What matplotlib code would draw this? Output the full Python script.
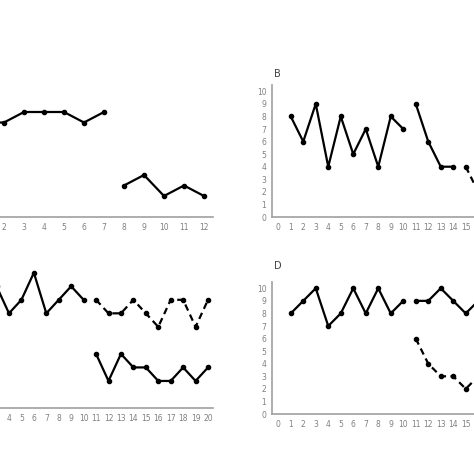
import matplotlib
matplotlib.use('Agg')
import matplotlib.pyplot as plt

W = H = 474.0

# panel A
a_x1 = [1, 2, 3, 4, 5, 6, 7]
a_y1 = [9, 9, 10, 10, 10, 9, 10]
a_x2 = [8, 9, 10, 11, 12]
a_y2 = [3, 4, 2, 3, 2]

# panel B
b_x1 = [1, 2, 3, 4, 5, 6, 7, 8, 9, 10]
b_y1 = [8, 6, 9, 4, 8, 5, 7, 4, 8, 7]
b_x2 = [11, 12, 13, 14]
b_y2 = [9, 6, 4, 4]
b_x3 = [15, 16]
b_y3 = [4, 2]

# panel C
c_x1 = [1, 2, 3, 4, 5, 6, 7, 8, 9, 10]
c_y1 = [8, 8, 9, 7, 8, 10, 7, 8, 9, 8]
c_x2 = [11, 12, 13, 14, 15, 16, 17, 18, 19, 20]
c_y2 = [8, 7, 7, 8, 7, 6, 8, 8, 6, 8]
c_x3 = [11, 12, 13, 14, 15, 16, 17, 18, 19, 20]
c_y3 = [4, 2, 4, 3, 3, 2, 2, 3, 2, 3]

# panel D
d_x1 = [1, 2, 3, 4, 5, 6, 7, 8, 9, 10]
d_y1 = [8, 9, 10, 7, 8, 10, 8, 10, 8, 9]
d_x2 = [11, 12, 13, 14, 15, 16]
d_y2 = [9, 9, 10, 9, 8, 9]
d_x3 = [11, 12, 13, 14, 15, 16]
d_y3 = [6, 4, 3, 3, 2, 3]


def make_ax(fig, left, bottom, right, top, xmin, xmax, xticks, yticks, ymax=10.5):
    # pixel box -> figure fraction
    ax = fig.add_axes([left / W, 1 - bottom / H, (right - left) / W, (bottom - top) / H])
    ax.set_xlim(xmin, xmax)
    ax.set_ylim(0, ymax)
    ax.set_xticks(xticks)
    ax.set_yticks(yticks)
    for s in ['top', 'right']:
        ax.spines[s].set_visible(False)
    for s in ['left', 'bottom']:
        ax.spines[s].set_color('#a0a0a0')
        ax.spines[s].set_linewidth(1.2)
    ax.tick_params(length=0, labelsize=5.5, labelcolor='#808080', pad=4)
    return ax


def draw(ax, x, y, dashed=False):
    ax.plot(x, y, color='black', lw=1.6, ls=(0, (3, 2)) if dashed else '-',
            marker='o', ms=3, clip_on=False)


fig = plt.figure(figsize=(4.74, 4.74), dpi=100)

# A (left part lies outside the crop)
axa = make_ax(fig, -46, 217, 213, 91, -0.5, 12.45, range(2, 13), [], ymax=12)
draw(axa, a_x1, a_y1)
draw(axa, a_x2, a_y2)

# B (right part lies outside the crop)
axb = make_ax(fig, 272, 217, 272 + 21 * 12.5, 85, -0.5, 20.5, range(0, 16), range(0, 11))
draw(axb, b_x1, b_y1)
draw(axb, b_x2, b_y2)
draw(axb, b_x3, b_y3, dashed=True)
fig.text(274 / W, 1 - 74 / H, 'B', fontsize=7, color='#404040', va='center')

# C
axc = make_ax(fig, -47, 408, 213, 266, -0.5, 20.4, range(4, 21), [])
draw(axc, c_x1, c_y1)
draw(axc, c_x2, c_y2, dashed=True)
draw(axc, c_x3, c_y3)

# D
axd = make_ax(fig, 272, 414, 272 + 21 * 12.5, 282, -0.5, 20.5, range(0, 16), range(0, 11))
draw(axd, d_x1, d_y1)
draw(axd, d_x2, d_y2)
draw(axd, d_x3, d_y3, dashed=True)
fig.text(274 / W, 1 - 266 / H, 'D', fontsize=7, color='#404040', va='center')

fig.savefig('out.png', dpi=100)
